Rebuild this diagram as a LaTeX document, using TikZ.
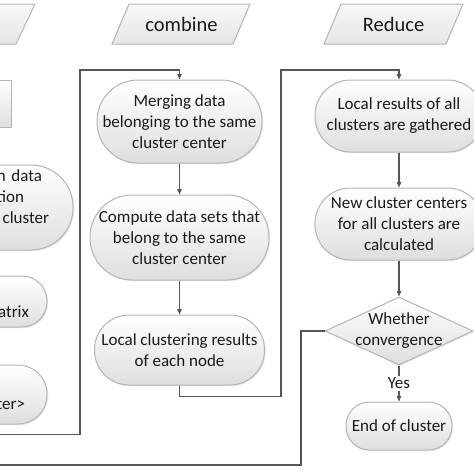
\documentclass[tikz,border=0pt]{standalone}
\usepackage{fontspec}
\setmainfont{Carlito}
\usetikzlibrary{shapes.geometric,shadows,arrows.meta}
\definecolor{txt}{HTML}{1A1A1A}
\definecolor{edgec}{HTML}{B4B4B4}
\definecolor{conn}{HTML}{555555}
\definecolor{shadeb}{HTML}{DEDEDE}
\newcommand{\padr}[1]{\rule{#1}{0pt}}
\tikzset{
  stad/.style={draw=edgec, line width=1pt, top color=white, bottom color=shadeb,
    text=txt, font=\fontsize{17}{21}\selectfont, align=center, inner sep=2pt,
    drop shadow={shadow xshift=1.2pt, shadow yshift=-1.2pt, opacity=0.18}},
  ttl/.style={draw=edgec, line width=1pt, top color=gray!6, bottom color=gray!20},
  ttltext/.style={text=txt, font=\fontsize{20.5}{24}\selectfont},
  conline/.style={draw=conn, line width=1.2pt},
  arr/.style={conline, -{Triangle[length=5.5pt,width=4.5pt]}},
  bodytext/.style={text=txt, font=\fontsize{17}{21}\selectfont, align=center, inner sep=0pt},
}
\begin{document}
\begin{tikzpicture}[x=1pt,y=-1pt]
\useasboundingbox (0,0) rectangle (474,474);
\clip (0,0) rectangle (474,474);
% title parallelograms
\path[ttl] (-130,44) -- (16,44) -- (35,4) -- (-111,4) -- cycle;
\path[ttl] (112,44) -- (233,44) -- (250,4) -- (129,4) -- cycle;
\path[ttl] (324,44) -- (446,44) -- (463,4) -- (341,4) -- cycle;
\node[ttltext] (tcombine) at (181.5,24) {combine};
\node[ttltext] (treduce) at (393.5,24) {Reduce};
% left (Map) column, mostly cut off
\node[stad, minimum width=171pt, minimum height=47pt] (inbox) at (-74.5,103.5) {};
\node[stad, minimum width=233pt, minimum height=85pt, rounded corners=42pt,
      text width=185pt, align=right] (lnode1) at (-43.5,207.5)
  {each data\padr{7pt}\\position\padr{25pt}\\to each cluster\\center\padr{60pt}};
\node[stad, minimum width=207pt, minimum height=51pt, rounded corners=25pt,
      text width=171pt, align=right] (lnode2) at (-56.5,301.5)
  {Generate\padr{45pt}\\distance matrix};
\node[stad, minimum width=207pt, minimum height=59pt, rounded corners=29pt,
      text width=163pt, align=right] (lnode3) at (-56.5,394.5)
  {Output\padr{45pt}\\{<}key, cluster{>}};
% combine column
\node[stad, minimum width=165pt, minimum height=83pt, rounded corners=41pt] (merge) at (179.5,121.5)
  {Merging data\\belonging to the same\\cluster center};
\node[stad, minimum width=179pt, minimum height=85pt, rounded corners=42pt] (compute) at (179.5,237.5)
  {Compute data sets that\\belong to the same\\cluster center};
\node[stad, minimum width=170pt, minimum height=70pt, rounded corners=34.5pt] (local) at (179.5,350)
  {Local clustering results\\of each node};
% reduce column
\node[stad, minimum width=168pt, minimum height=72pt, rounded corners=35.5pt] (gather) at (399,116)
  {Local results of all\\clusters are gathered};
\node[stad, minimum width=168pt, minimum height=72pt, rounded corners=35.5pt] (newc) at (399,224)
  {New cluster centers\\for all clusters are\\calculated};
\node[stad, diamond, minimum width=148pt, minimum height=68pt, inner sep=0pt] (dia) at (399,331) {};
\node[bodytext] (diatext) at (dia.center) {Whether\\convergence};
\node[stad, minimum width=106pt, minimum height=48pt, rounded corners=23.5pt] (endc) at (399,426)
  {End of cluster};
% connectors
\draw[arr] (lnode3.south) -- ++(0,10) -| (80,70) -| (merge.north);
\draw[arr] (merge.south) -- (compute.north);
\draw[arr] (compute.south) -- (local.north);
\draw[arr] (local.south) -- ++(0,11) -| (281,70) -| (gather.north);
\draw[arr] (gather.south) -- (newc.north);
\draw[arr] (newc.south) -- (dia.north);
\draw[arr] (dia.south) -- node[bodytext, fill=white, inner sep=2pt] (yes) {Yes} (endc.north);
\coordinate (back) at (-5,465);
\draw[conline] (dia.west) -| (301,465) -- (back);
\end{tikzpicture}
\end{document}
